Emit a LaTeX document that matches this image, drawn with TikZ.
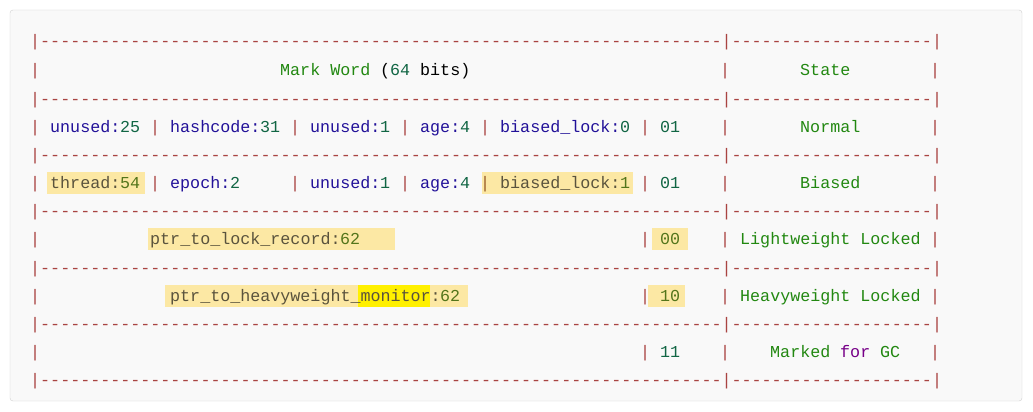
\documentclass[tikz,border=0pt]{standalone}
\usepackage{fontspec}
\newfontfamily\mono{Liberation Mono}
\definecolor{bar}{HTML}{A94442}
\definecolor{nav}{HTML}{221199}
\definecolor{num}{HTML}{116644}
\definecolor{grn}{HTML}{228811}
\definecolor{kw}{HTML}{770088}
\definecolor{hl}{HTML}{FCE8A4}
\definecolor{hly}{HTML}{FFF000}
\tikzset{tk/.style={anchor=base west,inner sep=0pt,font=\mono\fontsize{16.7pt}{18pt}\selectfont}}
\newcommand\T[4]{\node[tk,text=#3] at ({(30+#1*10)*1pt},{-(#2+5)*1pt}) {#4};}
\newcommand\HL[4][hl]{\fill[#1] ({#2*1pt},{-(#4-11)*1pt}) rectangle ({#3*1pt},{-(#4+11)*1pt});}
\newcommand\dashrow[1]{\T{0}{#1}{bar}{|--------------------------------------------------------------------|--------------------|}}
\begin{document}
\begin{tikzpicture}
\fill[white] (0,0) rectangle (1033pt,-412pt);
\draw[rounded corners=3pt,draw=black!18,fill=black!2.5] (10pt,-10pt) rectangle (1022pt,-401pt);
% highlights
\HL{47}{145}{183}\HL{482}{633}{183}
\HL{148}{395}{239}\HL{652}{688}{239}
\HL{165}{358}{296}\HL[hly]{358}{430}{296}\HL{430}{468}{296}\HL{648}{685}{296}
\dashrow{42}\dashrow{99}\dashrow{155}\dashrow{211}\dashrow{268}\dashrow{324}\dashrow{380}
% header
\T{0}{71}{bar}{|}\T{25}{71}{grn}{Mark Word}\T{35}{71}{black}{(}\T{36}{71}{num}{64}\T{39}{71}{black}{bits)}
\T{69}{71}{bar}{|}\T{77}{71}{grn}{State}\T{90}{71}{bar}{|}
% normal
\T{0}{127}{bar}{|}\T{2}{127}{nav}{unused:}\T{9}{127}{num}{25}\T{12}{127}{bar}{|}
\T{14}{127}{nav}{hashcode:}\T{23}{127}{num}{31}\T{26}{127}{bar}{|}
\T{28}{127}{nav}{unused:}\T{35}{127}{num}{1}\T{37}{127}{bar}{|}
\T{39}{127}{nav}{age:}\T{43}{127}{num}{4}\T{45}{127}{bar}{|}
\T{47}{127}{nav}{biased\_lock:}\T{59}{127}{num}{0}\T{61}{127}{bar}{|}
\T{63}{127}{num}{01}\T{69}{127}{bar}{|}\T{77}{127}{grn}{Normal}\T{90}{127}{bar}{|}
% biased
\T{0}{183}{bar}{|}\T{2}{183}{nav!40!olive}{thread:}\T{9}{183}{num!40!olive}{54}\T{12}{183}{bar}{|}
\T{14}{183}{nav}{epoch:}\T{20}{183}{num}{2}\T{26}{183}{bar}{|}
\T{28}{183}{nav}{unused:}\T{35}{183}{num}{1}\T{37}{183}{bar}{|}
\T{39}{183}{nav}{age:}\T{43}{183}{num}{4}\T{45}{183}{bar!60!olive}{|}
\T{47}{183}{nav!40!olive}{biased\_lock:}\T{59}{183}{num!40!olive}{1}\T{61}{183}{bar}{|}
\T{63}{183}{num}{01}\T{69}{183}{bar}{|}\T{77}{183}{grn}{Biased}\T{90}{183}{bar}{|}
% lightweight
\T{0}{239}{bar}{|}\T{12}{239}{nav!40!olive}{ptr\_to\_lock\_record:}\T{31}{239}{num!40!olive}{62}
\T{61}{239}{bar}{|}\T{63}{239}{num!40!olive}{00}\T{69}{239}{bar}{|}\T{71}{239}{grn}{Lightweight Locked}\T{90}{239}{bar}{|}
% heavyweight
\T{0}{296}{bar}{|}\T{14}{296}{nav!40!olive}{ptr\_to\_heavyweight\_monitor:}\T{41}{296}{num!40!olive}{62}
\T{61}{296}{bar}{|}\T{63}{296}{num!40!olive}{10}\T{69}{296}{bar}{|}\T{71}{296}{grn}{Heavyweight Locked}\T{90}{296}{bar}{|}
% gc
\T{0}{352}{bar}{|}\T{61}{352}{bar}{|}\T{63}{352}{num}{11}\T{69}{352}{bar}{|}
\T{74}{352}{grn}{Marked}\T{81}{352}{kw}{for}\T{85}{352}{grn}{GC}\T{90}{352}{bar}{|}
\end{tikzpicture}
\end{document}
